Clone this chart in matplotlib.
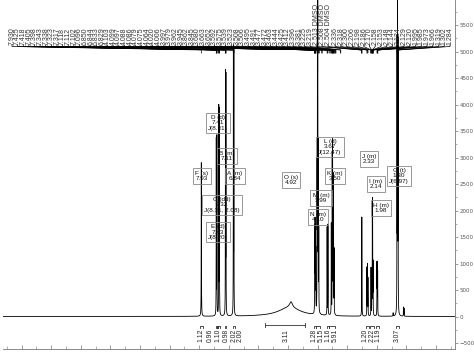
import numpy as np
import matplotlib
matplotlib.use("Agg")
import matplotlib.pyplot as plt
from matplotlib.ticker import MultipleLocator, NullFormatter

# ---------------- data ----------------
# peak positions (ppm), apparent heights (a.u.) and half widths (ppm)
peak_ppm = [7.930, 7.425, 7.404, 7.340, 7.320, 7.115, 7.099, 6.847, 6.831,
            4.950, 4.900,
            4.099, 4.088, 4.079, 4.064, 4.020, 4.006, 3.997, 3.979, 3.962,
            3.680, 3.652, 3.539, 3.508, 3.495, 3.477, 3.463, 3.444,
            2.513, 2.508, 2.504,
            2.336, 2.318, 2.300, 2.198, 2.170, 2.153, 2.144, 2.129,
            1.995, 1.985, 1.973,
            1.450, 1.319, 1.302, 1.284, 1.100, 1.082]
peak_height = [2900, 3300, 3350, 3900, 3850, 4500, 4450, 4950, 4900,
               170, 110,
               1450, 1550, 1450, 1150, 2500, 7000, 7500, 3000, 1500,
               1650, 1700, 1700, 2900, 3100, 2500, 1800, 1200,
               800, 1600, 800,
               900, 950, 700, 900, 700, 1900, 2000, 950,
               950, 900, 800,
               60, 5000, 9000, 5000, 170, 150]
peak_hwhm = [0.004, 0.003, 0.003, 0.003, 0.003, 0.003, 0.003, 0.003, 0.003,
             0.45, 0.06,
             0.003, 0.003, 0.003, 0.003, 0.003, 0.003, 0.003, 0.003, 0.003,
             0.003, 0.003, 0.003, 0.003, 0.003, 0.003, 0.003, 0.003,
             0.002, 0.003, 0.002,
             0.003, 0.003, 0.003, 0.003, 0.003, 0.003, 0.003, 0.003,
             0.003, 0.003, 0.003,
             0.004, 0.003, 0.003, 0.003, 0.003, 0.003]

# peak-pick labels along the top
top_labels = ["7.930", "7.425", "7.418", "7.405", "7.398", "7.343", "7.338", "7.323",
              "7.317", "7.118", "7.112", "7.102", "7.096", "6.850", "6.844", "6.833",
              "6.829",
              "4.103", "4.099", "4.097", "4.088", "4.086", "4.079", "4.075", "4.064",
              "4.020", "4.006", "3.997", "3.979", "3.962", "3.945", "3.862", "3.845",
              "3.680", "3.663", "3.652", "3.592", "3.575", "3.539", "3.523", "3.508",
              "3.506", "3.495", "3.491", "3.477", "3.472", "3.463", "3.444", "3.425",
              "3.412", "3.396", "3.381", "3.225", "3.219",
              "2.513 DMSO", "2.508 DMSO", "2.504 DMSO",
              "2.336", "2.318", "2.300", "2.206", "2.198", "2.186", "2.170", "2.158",
              "2.153", "2.148", "2.144", "2.134", "2.129", "2.120", "1.995", "1.985",
              "1.973", "1.966", "1.319", "1.302", "1.284"]

# multiplet annotations
mult_text = ["D (d)\n7.41\nJ(8.31)", "B (m)\n7.11", "F (s)\n7.93", "A (m)\n6.84",
             "C (dd)\n7.32\nJ(8.31, 2.08)", "E (d)\n7.43\nJ(8.20)", "O (s)\n4.92",
             "L (d)\n3.67\nJ(12.47)", "K (m)\n3.50", "M (m)\n3.99", "N (m)\n4.10",
             "J (m)\n2.33", "I (m)\n2.14", "H (m)\n1.98", "G (t)\n1.30\nJ(6.97)"]

# integrals
integral_values = ["1.12", "0.96", "1.10", "0.98", "2.02", "2.00", "3.11", "1.28",
                   "5.15", "1.16", "5.91", "1.20", "2.22", "1.19", "3.07"]
integral_from = [7.98, 7.45, 7.41, 7.36, 7.14, 6.87, 5.78, 4.13, 4.04, 3.70, 3.60,
                 2.37, 2.22, 2.02, 1.34]
integral_to = [7.88, 7.41, 7.37, 7.30, 7.08, 6.80, 4.43, 4.06, 3.92, 3.62, 3.40,
               2.28, 2.10, 1.94, 1.26]

# ---------------- layout ----------------
W, H = 474, 356
fig = plt.figure(figsize=(W / 100, H / 100), dpi=100)
AX_L, AX_R, AX_B = 3, 455, 349  # pixel edges
ax = fig.add_axes([AX_L / W, (H - AX_B) / H, (AX_R - AX_L) / W, AX_B / H])
X_LEFT, X_RIGHT = 14.63, -0.64
Y_BOT, Y_TOP = -613, 5972
ax.set_xlim(X_LEFT, X_RIGHT)
ax.set_ylim(Y_BOT, Y_TOP)


def px2ppm(px):
    return X_LEFT + (px - AX_L) / (AX_R - AX_L) * (X_RIGHT - X_LEFT)


def py2val(py):
    return Y_TOP - py / AX_B * (Y_TOP - Y_BOT)


# spectrum
x = np.linspace(X_LEFT, X_RIGHT, 60000)
y = np.zeros_like(x)
for p, h, w in zip(peak_ppm, peak_height, peak_hwhm):
    y += h * w * w / ((x - p) ** 2 + w * w)
ax.plot(x, y, color="black", lw=0.6)

# top peak labels + connectors
n_before = 54
pos_px = list(np.linspace(12, 310, n_before)) + [316, 322, 328] + \
    list(np.linspace(335, 450, len(top_labels) - n_before - 3))
for lab, px in zip(top_labels, pos_px):
    xl = px2ppm(px)
    pv = float(lab.split()[0])
    ax.text(xl, py2val(45), lab, rotation=90, ha="center", va="bottom",
            fontsize=5.0, family="Liberation Sans", color="#333")
    ax.plot([xl, xl, pv, pv], [py2val(45), py2val(46.5), py2val(50), py2val(53)],
            color="black", lw=0.5, clip_on=False)

# multiplet boxes (positions in pixel coords of the reference)
box_pos = [(218, 123), (227, 156), (202, 176), (235, 176), (222, 205), (218, 232),
           (291, 180), (330, 147), (335, 176), (321, 198), (318, 217),
           (369, 159), (376, 184), (381, 208), (399, 176)]
for txt, (bx, by) in zip(mult_text, box_pos):
    ax.text(px2ppm(bx), py2val(by), txt, ha="center", va="center", fontsize=4.6,
            family="Liberation Sans", linespacing=1.15, color="#111",
            bbox=dict(boxstyle="square,pad=0.35", fc="none", ec="#888", lw=0.6))

# integrals
int_label_px = [201, 210.5, 218, 226.5, 234, 240, 286, 314, 321, 328, 335, 365, 372, 378, 397]
for val, a, b, lp in zip(integral_values, integral_from, integral_to, int_label_px):
    yb = py2val(326)
    if val == "3.11":
        yb = py2val(325)
        ax.plot([a, b], [yb, yb], color="#333", lw=0.6)
        for e in (a, b):
            ax.plot([e, e], [py2val(323), py2val(327)], color="#333", lw=0.6)
    else:
        ax.plot([a, a, b, b], [py2val(328), yb, yb, py2val(328)], color="#333", lw=0.6)
    ax.text(px2ppm(lp), py2val(329), val, rotation=90, ha="center", va="top",
            fontsize=4.9, family="Liberation Sans", color="#222")

# axes styling
for s in ("left", "top"):
    ax.spines[s].set_visible(False)
ax.spines["right"].set_color("#777")
ax.spines["bottom"].set_color("#777")
ax.spines["right"].set_linewidth(0.6)
ax.spines["bottom"].set_linewidth(0.6)
ax.yaxis.tick_right()
ax.yaxis.set_major_locator(MultipleLocator(500))
ax.yaxis.set_minor_locator(MultipleLocator(250))
ax.xaxis.set_major_locator(MultipleLocator(1))
ax.xaxis.set_minor_locator(MultipleLocator(0.5))
ax.xaxis.set_major_formatter(NullFormatter())
ax.tick_params(axis="y", which="major", direction="out", length=2.5, width=0.5,
               colors="#777", labelsize=4.0, labelcolor="#555", pad=0.8)
ax.tick_params(axis="y", which="minor", direction="out", length=1.5, width=0.4,
               colors="#777")
ax.tick_params(axis="x", which="major", direction="in", length=3, width=0.5,
               colors="#777", labelbottom=False)
ax.tick_params(axis="x", which="minor", direction="in", length=2, width=0.4,
               colors="#777")
ax.set_facecolor("white")
fig.patch.set_facecolor("white")

fig.savefig("out.png", dpi=100)
